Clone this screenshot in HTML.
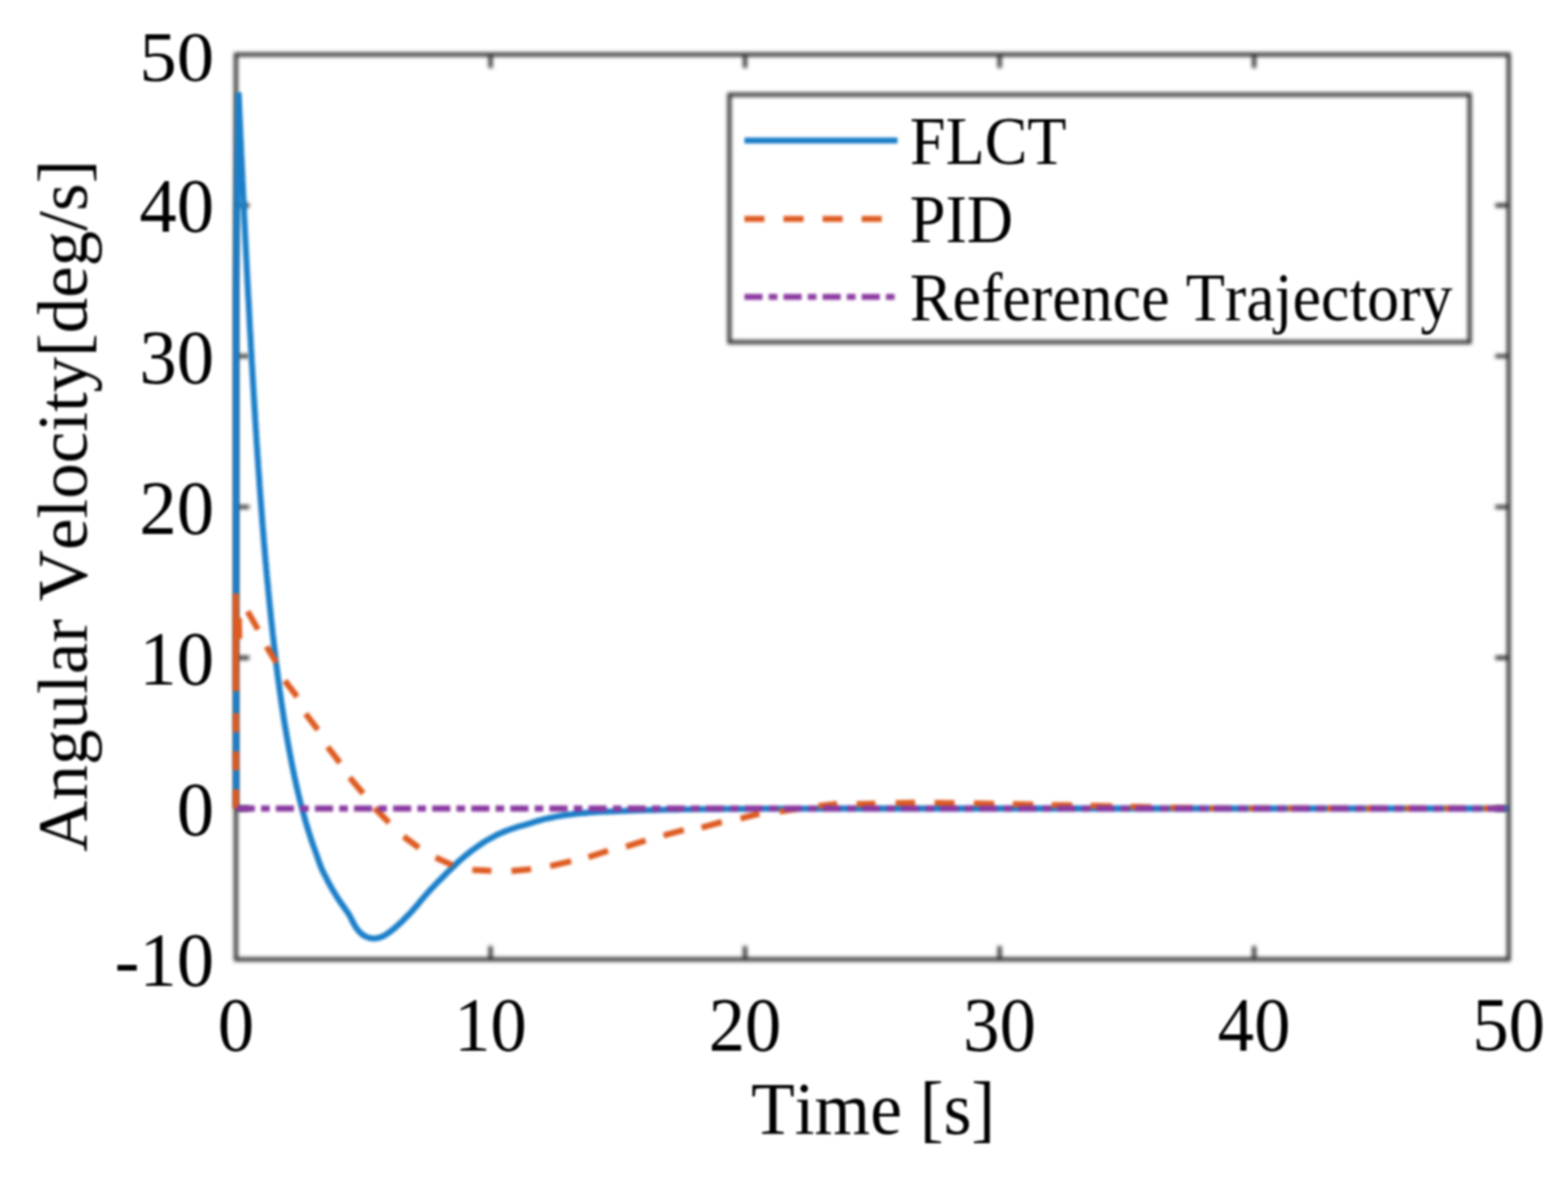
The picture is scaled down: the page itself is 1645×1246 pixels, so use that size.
<!DOCTYPE html>
<html lang="en"><head><meta charset="utf-8"><title>Angular Velocity</title>
<style>html,body{margin:0;padding:0;background:#fff}body{width:1645px;height:1246px;overflow:hidden}svg{display:block}text{font-family:"Liberation Serif",serif;fill:#000;font-kerning:none}</style></head><body>
<svg width="1645" height="1246" viewBox="0 0 1645 1246">
<defs><filter id="a" x="0" y="0" width="1645" height="1246" filterUnits="userSpaceOnUse" color-interpolation-filters="sRGB"><feGaussianBlur stdDeviation="1.9"/></filter><filter id="c" x="0" y="0" width="1645" height="1246" filterUnits="userSpaceOnUse" color-interpolation-filters="sRGB"><feGaussianBlur stdDeviation="1.4"/></filter><filter id="t" x="0" y="0" width="1645" height="1246" filterUnits="userSpaceOnUse" color-interpolation-filters="sRGB"><feGaussianBlur stdDeviation="1.0"/></filter></defs>
<rect width="1645" height="1246" fill="#fff"/>
<g filter="url(#a)" fill="none" stroke="#2e2e2e" stroke-width="4.1">
<rect x="247.5" y="57.2" width="1335.3" height="949"/>
<path d="M514.6 1006.2v-14M514.6 57.2v14M781.6 1006.2v-14M781.6 57.2v14M1048.7 1006.2v-14M1048.7 57.2v14M1315.7 1006.2v-14M1315.7 57.2v14M247.5 848h14M1582.8 848h-14M247.5 689.9h14M1582.8 689.9h-14M247.5 531.7h14M1582.8 531.7h-14M247.5 373.5h14M1582.8 373.5h-14M247.5 215.4h14M1582.8 215.4h-14"/>
</g>
<g filter="url(#c)" fill="none" stroke-width="6.3">
<path stroke="#1A7EC8" d="M247.8 848V300L248.4 230L249.3 165L250 120L250.2 97L250.4 101L250.6 105L250.8 109L251 113L251.1 117L251.3 121L251.5 125L251.7 129L251.9 133L252 137L252.2 141L252.4 145L252.6 148.9L252.8 152.9L253 156.9L253.1 160.9L253.3 164.9L253.5 168.9L253.7 172.9L253.9 176.9L254.1 180.9L254.3 184.9L254.4 188.9L254.6 192.9L254.8 196.9L255 200.9L255.2 204.9L255.4 208.9L255.6 212.9L255.8 216.9L256 220.9L256.1 224.9L256.3 228.9L256.5 232.9L256.7 236.8L256.9 240.8L257.1 244.8L257.3 248.8L257.5 252.8L257.7 256.8L257.9 260.8L258.1 264.8L258.3 268.8L258.5 272.8L258.7 276.8L258.9 280.8L259.1 284.8L259.3 288.8L259.5 292.8L259.7 296.8L259.9 300.8L260.1 304.8L260.3 308.8L260.5 312.8L260.8 316.7L261 320.7L261.2 324.7L261.4 328.7L261.6 332.7L261.8 336.7L262 340.7L262.2 344.7L262.5 348.7L262.7 352.7L262.9 356.7L263.1 360.7L263.3 364.7L263.6 368.7L263.8 372.7L264 376.7L264.2 380.7L264.5 384.6L264.7 388.6L264.9 392.6L265.2 396.6L265.4 400.6L265.6 404.6L265.9 408.6L266.1 412.6L266.3 416.6L266.6 420.6L266.8 424.6L267.1 428.6L267.3 432.6L267.6 436.6L267.8 440.5L268.1 444.5L268.3 448.5L268.6 452.5L268.8 456.5L269.1 460.5L269.3 464.5L269.6 468.5L269.9 472.5L270.1 476.5L270.4 480.5L270.7 484.5L270.9 488.4L271.2 492.4L271.5 496.4L271.8 500.4L272.1 504.4L272.3 508.4L272.6 512.4L272.9 516.4L273.2 520.4L273.5 524.4L273.8 528.3L274.1 532.3L274.4 536.3L274.7 540.3L275 544.3L275.3 548.3L275.6 552.3L276 556.3L276.3 560.2L276.6 564.2L276.9 568.2L277.3 572.2L277.6 576.2L277.9 580.2L278.3 584.2L278.6 588.1L279 592.1L279.3 596.1L279.7 600.1L280 604.1L280.4 608.1L280.8 612.1L281.2 616L281.5 620L281.9 624L282.3 628L282.7 632L283.1 635.9L283.5 639.9L283.9 643.9L284.3 647.9L284.7 651.9L285.2 655.8L285.6 659.8L286 663.8L286.5 667.8L286.9 671.7L287.4 675.7L287.8 679.7L288.3 683.7L288.8 687.6L289.2 691.6L289.7 695.6L290.2 699.5L290.7 703.5L291.2 707.5L291.7 711.4L292.3 715.4L292.8 719.4L293.3 723.3L293.9 727.3L294.5 731.3L295 735.2L295.6 739.2L296.2 743.1L296.8 747.1L297.4 751L298 755L298.6 758.9L299.3 762.9L299.9 766.8L300.6 770.8L301.3 774.7L302 778.7L302.7 782.6L303.4 786.5L304.1 790.5L304.9 794.4L305.6 798.3L306.4 802.3L307.2 806.2L308 810.1L308.8 814L309.7 817.9L310.5 821.8L311.4 825.7L312.3 829.6L313.2 833.5L314.2 837.4L315.1 841.3L316.1 845.2L317.2 849L318.2 852.9L319.3 856.7L320.3 860.6L321.5 864.4L322.6 868.3L323.8 872.1L325 875.9L326.2 879.7L327.5 883.5L328.8 887.3L330.2 891L331.5 894.8L332.9 898.6L334.2 902.4L335.5 906.1L336.9 909.9L338.5 913.5L340.3 917.1L342.2 920.6L344 924.2L345.9 927.7L347.8 931.2L349.8 934.7L351.9 938.1L354 941.5L356.2 944.9L358.5 948.1L360.8 951.4L363.1 954.7L365.4 958L367.4 961.4L369.2 965L371 968.6L373 972L375.3 975.3L378 978.2L381.1 980.8L384.5 982.7L388.3 983.9L392.2 984.3L396.2 983.9L400 982.8L403.6 981.1L406.9 978.9L410.2 976.5L413.3 974L416.3 971.4L419.3 968.7L422.2 965.9L425 963.1L427.8 960.3L430.6 957.4L433.3 954.4L435.9 951.4L438.5 948.4L441 945.3L443.6 942.2L446.2 939.2L448.9 936.2L451.6 933.2L454.3 930.3L457.1 927.4L459.9 924.6L462.7 921.7L465.5 918.9L468.3 916.1L471.2 913.3L474 910.5L476.9 907.7L479.8 904.9L482.8 902.2L485.8 899.6L488.8 897L492 894.5L495.1 892L498.3 889.7L501.6 887.4L504.9 885.1L508.3 882.9L511.7 880.9L515.2 878.9L518.7 877L522.3 875.2L525.9 873.6L529.6 872L533.3 870.6L537.1 869.3L540.9 868L544.7 866.8L548.6 865.7L552.4 864.6L556.3 863.5L560.1 862.3L563.9 861.1L567.8 860L571.6 859L575.5 858.1L579.4 857.3L583.4 856.5L587.3 855.8L591.3 855.2L595.2 854.6L599.2 854.1L603.2 853.7L607.1 853.2L611.1 852.9L615.1 852.5L619.1 852.2L623.1 851.9L627.1 851.6L631.1 851.4L635.1 851.3L639.1 851.1L643.1 851L647.1 850.8L651.1 850.6L655.1 850.5L659 850.3L663 850.2L667 850.1L671 849.9L675 849.8L679 849.7L683 849.6L687 849.5L691 849.4L695 849.3L699 849.2L703 849.1L707 849.1L711 849L715 848.9L719 848.9L723 848.8L727 848.7L731 848.7L735 848.7L739 848.6L743 848.6L747 848.5L751 848.5L755 848.5L759 848.4L763 848.4L767 848.4L771 848.3L775 848.3L779 848.3L783 848.3L787 848.2L791 848.2L795 848.2L799 848.2L803 848.2L807 848.2L811 848.2L815 848.2L819 848.1L823 848.1L827 848.1L831 848.1L835 848.1L839 848.1L843 848.1L847 848.1L851 848.1L855 848.1L859 848.1L863 848.1L867 848.1L871 848.1L875 848L879 848L883 848L887 848L891 848L895 848L897.9 848L900 848H1581.3"/>
<path stroke="#DE5A20" d="M247.5 848v-20M247.5 808v-20M247.5 768v-20M247.5 725V622.5M250.5 648L251 670M259.8 641.3L270.7 660.2M279.6 678.1L289.9 694.8M298.8 714L311.7 730.7M320.7 748.7L333.5 765.4M343.8 783.4L356.6 800M366.9 815.5L381 832.1M393 847.5L408.2 862.8M423.5 877.4L439.5 889.1M457 899.3L474.6 907.3M495.5 912.3L515.5 913.3M536.6 913.5L557.2 911.6M577.3 908.4L599.2 903.3M617.4 898.9L637.9 892.3M656.8 888L677.3 881.4M696.2 876.3L717.4 870.5M736 868L757.2 862.1M776.9 858.5L796.6 853.4M817.8 851.2L836.7 848.3M858.6 845.4L878.3 843.2M898.7 843.5L918.4 842.9M939.6 842.4L960 841.9M980.5 842.1L1001.5 842.3M1021.7 842.7L1043.1 843.1M1062.6 843.5L1084 843.9M1103.4 844.3L1124.8 844.7M1144.3 845.1L1166.7 845.6M1186.1 846.1L1207.5 846.6M1227.9 847.1L1251.3 847.5M1269 847.8L1289.5 847.8M1310 847.8L1330.5 847.8M1351 847.8L1371.5 847.8M1392 847.8L1412.5 847.8M1433 847.8L1453.5 847.8M1474 847.8L1494.5 847.8M1515 847.8L1535.5 847.8M1556 847.8L1576.5 847.8"/>
<path stroke="#8A3AA0" stroke-dasharray="19 6.5 9 6.5" d="M248.4 848H1581.3"/>
</g>
<rect filter="url(#a)" x="765.2" y="99.3" width="776.6" height="259.5" fill="#fff" stroke="#2e2e2e" stroke-width="4.1"/>
<g filter="url(#c)" fill="none" stroke-width="6.3">
<path stroke="#1A7EC8" d="M781 147.3H941.6"/>
<path stroke="#DE5A20" stroke-dasharray="21 20" d="M781 229.7H941.6"/>
<path stroke="#8A3AA0" stroke-dasharray="19 6.5 9 6.5" d="M781 311.4H941.6"/>
</g>
<g filter="url(#t)">
<text transform="translate(954.5 171.5) scale(0.941 1)" font-size="71.5">FLCT</text>
<text transform="translate(954.5 253.7) scale(0.941 1)" font-size="71.5">PID</text>
<text transform="translate(954.5 335.9) scale(0.941 1)" font-size="71.5">Reference Trajectory</text>
<text transform="translate(224.6 85.2) scale(0.975 0.935)" font-size="80.3" text-anchor="end">50</text>
<text transform="translate(224.6 243.4) scale(0.975 1)" font-size="80.3" text-anchor="end">40</text>
<text transform="translate(224.6 401.5) scale(0.975 1)" font-size="80.3" text-anchor="end">30</text>
<text transform="translate(224.6 559.7) scale(0.975 1)" font-size="80.3" text-anchor="end">20</text>
<text transform="translate(224.6 717.9) scale(0.975 1)" font-size="80.3" text-anchor="end">10</text>
<text transform="translate(224.6 876) scale(0.975 1)" font-size="80.3" text-anchor="end">0</text>
<text transform="translate(224.6 1034.2) scale(0.975 1)" font-size="80.3" text-anchor="end">-10</text>
<text transform="translate(247.5 1102) scale(0.95 1)" font-size="80.3" text-anchor="middle">0</text>
<text transform="translate(514.6 1102) scale(0.95 1)" font-size="80.3" text-anchor="middle">10</text>
<text transform="translate(781.6 1102) scale(0.95 1)" font-size="80.3" text-anchor="middle">20</text>
<text transform="translate(1048.7 1102) scale(0.95 1)" font-size="80.3" text-anchor="middle">30</text>
<text transform="translate(1315.7 1102) scale(0.95 1)" font-size="80.3" text-anchor="middle">40</text>
<text transform="translate(1582.8 1102) scale(0.95 1)" font-size="80.3" text-anchor="middle">50</text>
<text transform="translate(916 1188.8) scale(1 1.035)" font-size="75" text-anchor="middle">Time [s]</text>
<text transform="translate(91 530.4) rotate(-90) scale(0.993 1.0)" font-size="75" text-anchor="middle">Angular Velocity[deg/s]</text>
</g>
</svg></body></html>
